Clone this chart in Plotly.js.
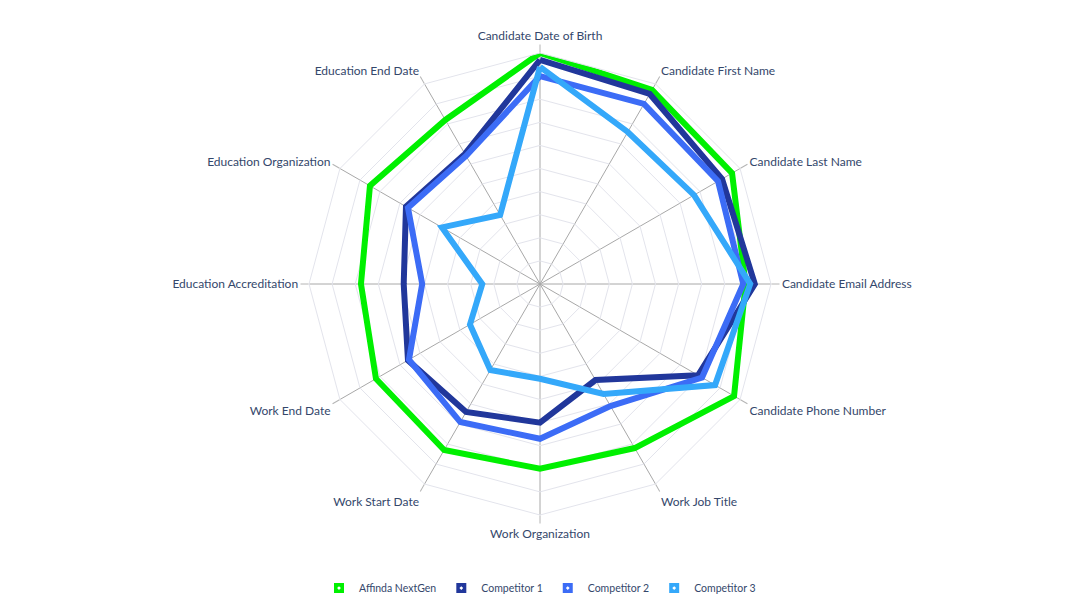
<html>
<head>
<meta charset="utf-8">
<script src="https://cdn.plot.ly/plotly-3.0.1.min.js"></script>
<style>
  html, body { margin: 0; padding: 0; background: #fff; }
  #chart { width: 1080px; height: 605px; }
</style>
</head>
<body>
<div id="chart"></div>
<script>
// categories, clockwise from the top
var fields = ['Candidate Date of Birth', 'Candidate First Name', 'Candidate Last Name',
    'Candidate Email Address', 'Candidate Phone Number', 'Work Job Title',
    'Work Organization', 'Work Start Date', 'Work End Date',
    'Education Accreditation', 'Education Organization', 'Education End Date'];

var affinda     = [100, 97, 96, 89, 97, 82, 80, 83, 82, 77.5, 85, 82];
var competitor1 = [97, 95, 91, 93, 79, 48, 60, 64, 66, 59, 67, 65];
var competitor2 = [90, 90, 89, 88, 81, 61, 67, 69, 65.5, 51, 66, 64];
var competitor3 = [94, 76, 77, 91, 87.5, 55, 41, 43, 35, 25, 49, 34.5];

var names = ['Affinda NextGen', 'Competitor 1', 'Competitor 2', 'Competitor 3'];
var colors = ['#00f000', '#21379b', '#3c6cf6', '#34a8fa'];
var series = [affinda, competitor1, competitor2, competitor3];

function closed(arr) { return arr.concat([arr[0]]); }

var data = [];
series.forEach(function (vals, i) {
    data.push({
        type: 'scatterpolar',
        r: closed(vals),
        theta: closed(fields),
        mode: 'lines',
        name: names[i],
        legendgroup: names[i],
        showlegend: false,
        line: {color: colors[i], width: 6},
        hoverinfo: 'name+theta+r'
    });
});
// legend entries (square swatches)
names.forEach(function (n, i) {
    data.push({
        type: 'scatterpolar',
        r: [null],
        theta: [null],
        mode: 'markers',
        name: n,
        legendgroup: n,
        marker: {symbol: 'square-dot', size: 11, color: colors[i], line: {color: '#ffffff', width: 1}}
    });
});

var layout = {
    width: 1080,
    height: 605,
    margin: {l: 80, r: 80, t: 53, b: 90},
    paper_bgcolor: '#ffffff',
    font: {family: 'Lato, sans-serif', size: 12, color: '#34476b'},
    showlegend: true,
    legend: {
        orientation: 'h',
        xref: 'container', yref: 'container',
        x: 0.5, xanchor: 'center',
        y: 0.028, yanchor: 'middle',
        font: {size: 10.5, color: '#34476b'},
        itemsizing: 'constant',
        itemwidth: 30,
        tracegroupgap: 0
    },
    polar: {
        bgcolor: '#ffffff',
        radialaxis: {
            range: [0, 100],
            dtick: 10,
            showticklabels: false,
            ticks: '',
            showline: false,
            gridcolor: '#e3e4ec',
            gridwidth: 1
        },
        angularaxis: {
            direction: 'clockwise',
            rotation: 90,
            categoryorder: 'array',
            categoryarray: fields,
            gridcolor: '#a8a8a8',
            gridwidth: 1,
            showline: true,
            linecolor: '#e3e4ec',
            linewidth: 1,
            ticks: 'outside',
            ticklen: 8,
            tickcolor: '#b4b4b4',
            tickfont: {size: 12, color: '#34476b'}
        },
        gridshape: 'linear'
    }
};

Plotly.newPlot('chart', data, layout, {displayModeBar: false, staticPlot: true});
</script>
</body>
</html>
